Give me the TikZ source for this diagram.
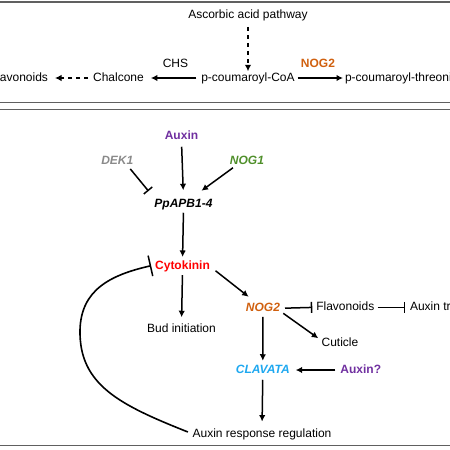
\documentclass[tikz,border=0pt]{standalone}
\usepackage{fontspec}
\setmainfont{Liberation Sans}
\usetikzlibrary{arrows.meta,calc}
\definecolor{cpurple}{HTML}{7030A0}
\definecolor{cgreen}{HTML}{4F8F2A}
\definecolor{cgrey}{HTML}{8A8A8A}
\definecolor{corange}{HTML}{D0600F}
\definecolor{cred}{HTML}{FF0000}
\definecolor{ccyan}{HTML}{1EA8F0}
\definecolor{cframe}{HTML}{606060}
\tikzset{
  lbl/.style={inner sep=0pt, outer sep=0pt, text height=9pt, text depth=2.5pt, font=\fontsize{12}{14}\selectfont},
  bl/.style={lbl, font=\fontsize{12}{14}\selectfont\bfseries},
  bli/.style={lbl, font=\fontsize{12}{14}\selectfont\bfseries\itshape},
  arr/.style={-{Latex[length=6.5pt,width=6.5pt]}, line width=1.5pt},
  darr/.style={-{Latex[length=6.5pt,width=6.5pt]}, line width=1.7pt, dash pattern=on 4.5pt off 3.5pt},
  inh/.style={-{Bar[width=11pt,line width=1.5pt]}, line width=1.5pt},
  biginh/.style={-{Bar[width=21pt,line width=1.5pt]}, line width=1.6pt},
  frameline/.style={draw=cframe, line width=1.6pt}
}
\begin{document}
\begin{tikzpicture}[x=1pt,y=-1pt]
\useasboundingbox (0,0) rectangle (450,450);
\clip (0,0) rectangle (450,450);
% frame lines
\draw[frameline] (0,2) -- (450,2);
\draw[frameline] (0,102.3) -- (450,102.3);
\draw[frameline] (0,109.3) -- (450,109.3);
\draw[frameline] (0,445.5) -- (450,445.5);

% top panel
\node[lbl] (asc) at (248,15) {Ascorbic acid pathway};
\node[lbl] (pcoa) at (248,78) {p-coumaroyl-CoA};
\node[lbl] (chal) at (118.5,78) {Chalcone};
\node[lbl, anchor=east] (flavtop) at (48,78) {Flavonoids};
\node[lbl, anchor=west] (thr) at (345,78) {p-coumaroyl-threonine};
\node[lbl] (chs) at (175.5,64) {CHS};
\node[bl, text=corange] (nogtop) at (318,64) {NOG2};

\draw[darr, shorten <=6pt, shorten >=1pt] (asc.south) -- (pcoa.north);
\draw[arr, shorten <=5pt, shorten >=7pt] (pcoa.west) -- (chal.east);
\draw[darr, shorten <=5pt, shorten >=7pt] (chal.west) -- (flavtop.east);
\draw[arr, shorten <=3pt, shorten >=2pt] (pcoa.east) -- (thr.west);

% bottom panel
\node[bl, text=cpurple] (aux) at (181.5,136) {Auxin};
\node[bli, text=cgrey] (dek) at (117.3,161.7) {DEK1};
\node[bli, text=cgreen] (nog1) at (247,161) {NOG1};
\node[bli] (ppa) at (183.5,204) {PpAPB1-4};
\node[bl, text=cred] (cyt) at (182.5,266.7) {Cytokinin};
\node[lbl] (bud) at (181.5,329) {Bud initiation};
\node[bli, text=corange] (nog2) at (263,308.3) {NOG2};
\node[lbl] (flav) at (345.3,307.3) {Flavonoids};
\node[lbl, anchor=west] (auxtr) at (410,307.3) {Auxin transport};
\node[lbl] (cut) at (340,343.7) {Cuticle};
\node[bli, text=ccyan] (cla) at (262.8,370) {CLAVATA};
\node[bl, text=cpurple] (auxq) at (360.8,370) {Auxin?};
\node[lbl] (resp) at (262,434.3) {Auxin response regulation};

\draw[arr, shorten <=5pt, shorten >=8pt] (aux.south) -- (ppa.north);
\draw[inh] ($(dek.south east)+(-3,1.5)$) -- ($(ppa.north west)+(-6,-7.2)$);
\draw[arr] ($(nog1.south west)+(3,1)$) -- ($(ppa.north east)+(-11,-7.5)$);
\draw[arr, shorten <=3pt, shorten >=4pt] (ppa.south) -- (cyt.north);
\draw[arr, shorten <=2.6pt, shorten >=6pt] (cyt.south) -- (bud.north);
\draw[arr] ($(cyt.south east)+(5.7,-1.7)$) -- ($(nog2.north west)+(2.6,-5.8)$);
\draw[inh, shorten <=5pt, shorten >=4pt] (nog2.east) -- (flav.west);
\draw[inh, shorten <=3.3pt, shorten >=5pt] (flav.east) -- (auxtr.west);
\draw[arr] ($(nog2.south east)+(3.3,-0.7)$) -- ($(cut.north west)+(-3.4,0.3)$);
\draw[arr, shorten <=2.7pt, shorten >=3.5pt] (nog2.south) -- (cla.north);
\draw[arr, shorten <=5pt, shorten >=6pt] (auxq.west) -- (cla.east);
\draw[arr, shorten <=4pt, shorten >=7pt] (cla.south) -- (resp.north);
\draw[biginh] ($(resp.west)+(-4.7,-2.3)$) .. controls (120,405) and (79,385) .. (80,330)
   .. controls (81,290) and (110,275) .. ($(cyt.west)+(-4,-1)$);
\end{tikzpicture}
\end{document}
